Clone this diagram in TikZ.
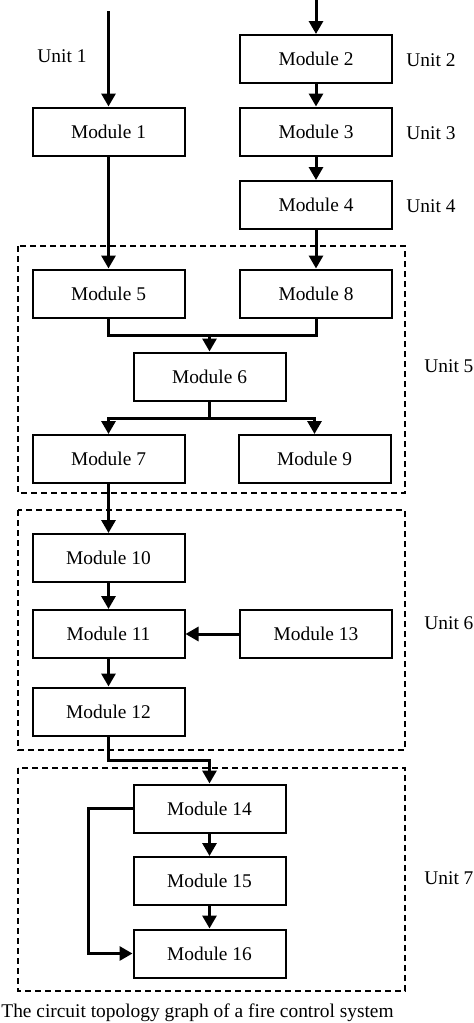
\documentclass[tikz,border=0pt]{standalone}
\usepackage{fontspec}
\setmainfont{Liberation Serif}
\usepackage{tikz}
\usetikzlibrary{positioning,arrows.meta,calc}

\begin{document}
\begin{tikzpicture}[x=0.5pt, y=-0.5pt,
    font=\fontsize{9.7}{11.6}\selectfont,
    mbox/.style={draw, line width=1pt, minimum width=76pt, minimum height=24pt, inner sep=2pt},
    ubox/.style={draw, dashed, dash pattern=on 3pt off 2pt, line width=1pt},
    conn/.style={line width=1.5pt},
    arr/.style={conn, -{Triangle[length=6.5pt, width=7pt]}}
]
\useasboundingbox (0,0) rectangle (474,1023);
% units with dashed frames
\draw[ubox] (18,246) rectangle (405,493);
\draw[ubox] (18,510) rectangle (405,750);
\draw[ubox] (18,768) rectangle (405,991);
% modules
\node[mbox] (m1)  at (108.5,131.5) {Module 1};
\node[mbox] (m2)  at (316,59)      {Module 2};
\node[mbox] (m3)  at (316,131.5)   {Module 3};
\node[mbox] (m4)  at (316,205)     {Module 4};
\node[mbox] (m5)  at (108.5,293.5) {Module 5};
\node[mbox] (m8)  at (316,293.5)   {Module 8};
\node[mbox] (m6)  at (209.5,376.5) {Module 6};
\node[mbox] (m7)  at (108.5,459)   {Module 7};
\node[mbox] (m9)  at (314.5,459)   {Module 9};
\node[mbox] (m10) at (108.5,558)   {Module 10};
\node[mbox] (m11) at (108.5,634)   {Module 11};
\node[mbox] (m13) at (316,634)     {Module 13};
\node[mbox] (m12) at (108.5,711.5) {Module 12};
\node[mbox] (m14) at (209.5,808.5) {Module 14};
\node[mbox] (m15) at (209.5,881)   {Module 15};
\node[mbox] (m16) at (209.5,953.5) {Module 16};
% unit labels
\node (u1) at (62,56)  {Unit 1};
\node (u2) at (431,60) {Unit 2};
\node (u3) at (431,133) {Unit 3};
\node (u4) at (431,206) {Unit 4};
\node[anchor=west, inner sep=0pt] (u5) at (424,366) {Unit 5};
\node[anchor=west, inner sep=0pt] (u6) at (424,623) {Unit 6};
\node[anchor=west, inner sep=0pt] (u7) at (424,878) {Unit 7};
% caption
\node[anchor=base west, inner sep=0pt] (cap) at (1,1017) {The circuit topology graph of a fire control system};
% junction points
\coordinate (in1) at (108.5,11);
\coordinate (in2) at (316,-2);
\coordinate (j1) at (209.5,335);
\coordinate (j2) at (209.5,418);
\coordinate (j3) at (108.5,760);
% connectors
\draw[arr] (in1) -- (m1);
\draw[arr] (in2) -- (m2);
\draw[arr] (m2) -- (m3);
\draw[arr] (m3) -- (m4);
\draw[arr] (m1) -- (m5);
\draw[arr] (m4) -- (m8);
\draw[conn] (m5.south) |- (j1) -| (m8.south);
\draw[arr] (j1) -- (m6);
\draw[conn] (m6) -- (j2);
\draw[arr] (j2) -| (m7);
\draw[arr] (j2) -| (m9);
\draw[arr] (m7) -- (m10);
\draw[arr] (m10) -- (m11);
\draw[arr] (m13) -- (m11);
\draw[arr] (m11) -- (m12);
\draw[arr] (m12) -- (j3) -| (m14);
\draw[arr] (m14) -- (m15);
\draw[arr] (m15) -- (m16);
\draw[arr] (m14.west) -- ++(-44,0) |- (m16.west);
\end{tikzpicture}
\end{document}
